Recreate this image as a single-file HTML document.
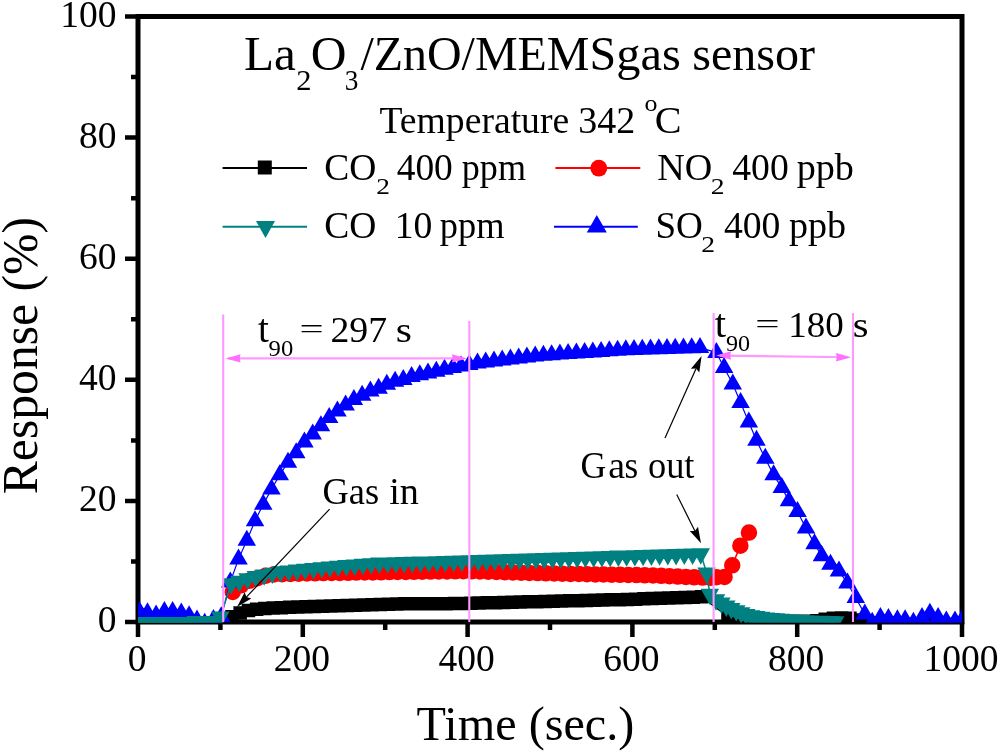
<!DOCTYPE html>
<html><head><meta charset="utf-8"><style>
html,body{margin:0;padding:0;background:#fff;}
svg{display:block;will-change:transform;}
text{font-family:"Liberation Serif",serif;fill:#000;}
</style></head><body>
<svg width="1000" height="752" viewBox="0 0 1000 752">
<defs><clipPath id="clip"><rect x="138.0" y="16.5" width="824.0" height="606.2"/></clipPath></defs>
<rect width="1000" height="752" fill="#fff"/>
<path d="M138.0,622.0v15M220.4,622.0v8M302.8,622.0v15M385.2,622.0v8M467.6,622.0v15M550.0,622.0v8M632.4,622.0v15M714.8,622.0v8M797.2,622.0v15M879.6,622.0v8M962.0,622.0v15M138.0,622.0h-13M138.0,561.5h-7M138.0,500.9h-13M138.0,440.4h-7M138.0,379.8h-13M138.0,319.2h-7M138.0,258.7h-13M138.0,198.2h-7M138.0,137.6h-13M138.0,77.1h-7M138.0,16.5h-13" stroke="#000" stroke-width="4.5" fill="none"/>
<rect x="138.0" y="16.5" width="824.0" height="605.5" fill="none" stroke="#000" stroke-width="5"/>
<g clip-path="url(#clip)">
 <polyline points="231.9,616.7 240.2,613.1 248.4,610.4 256.7,609.3 264.9,608.5 273.1,608.0 281.4,607.7 289.6,607.4 297.9,607.1 306.1,606.8 314.3,606.5 322.6,606.2 330.8,605.9 339.1,605.7 347.3,605.4 355.5,605.2 363.8,604.9 372.0,604.7 380.3,604.4 388.5,604.2 396.7,603.9 405.0,603.8 413.2,603.8 421.5,603.7 429.7,603.7 437.9,603.6 446.2,603.6 454.4,603.6 462.7,603.5 470.9,603.3 479.1,603.1 487.4,602.9 495.6,602.7 503.9,602.5 512.1,602.3 520.3,602.1 528.6,601.9 536.8,601.7 545.1,601.5 553.3,601.3 561.5,601.1 569.8,600.9 578.0,600.7 586.3,600.5 594.5,600.3 602.7,600.1 611.0,599.9 619.2,599.7 627.5,599.4 635.7,599.1 643.9,598.8 652.2,598.6 660.4,598.3 668.7,598.0 676.9,597.7 685.1,597.5 693.4,597.2 701.6,596.9 728.0,616.6 734.6,618.4 742.8,619.2 751.1,620.0 759.3,620.9 767.5,621.4 775.8,621.4 784.0,621.4 792.3,621.4 800.5,621.4 808.7,621.4 817.0,620.7 825.2,619.1 833.5,618.2 841.7,617.9 849.9,618.3 858.2,620.0 866.4,622.6 874.7,624.4 882.9,624.4 891.1,624.4 899.4,624.4 907.6,624.4 915.9,624.4 924.1,624.4 932.3,624.4 940.6,624.4 948.8,624.4 957.1,624.4" fill="none" stroke="#000" stroke-width="1.5"/>
 <path d="M225.2,609.9h13.5v13.5h-13.5ZM233.4,606.3h13.5v13.5h-13.5ZM241.7,603.7h13.5v13.5h-13.5ZM249.9,602.5h13.5v13.5h-13.5ZM258.1,601.8h13.5v13.5h-13.5ZM266.4,601.2h13.5v13.5h-13.5ZM274.6,600.9h13.5v13.5h-13.5ZM282.9,600.6h13.5v13.5h-13.5ZM291.1,600.3h13.5v13.5h-13.5ZM299.3,600.0h13.5v13.5h-13.5ZM307.6,599.7h13.5v13.5h-13.5ZM315.8,599.4h13.5v13.5h-13.5ZM324.1,599.2h13.5v13.5h-13.5ZM332.3,598.9h13.5v13.5h-13.5ZM340.5,598.7h13.5v13.5h-13.5ZM348.8,598.4h13.5v13.5h-13.5ZM357.0,598.2h13.5v13.5h-13.5ZM365.3,597.9h13.5v13.5h-13.5ZM373.5,597.7h13.5v13.5h-13.5ZM381.7,597.4h13.5v13.5h-13.5ZM390.0,597.2h13.5v13.5h-13.5ZM398.2,597.1h13.5v13.5h-13.5ZM406.5,597.0h13.5v13.5h-13.5ZM414.7,597.0h13.5v13.5h-13.5ZM422.9,596.9h13.5v13.5h-13.5ZM431.2,596.9h13.5v13.5h-13.5ZM439.4,596.9h13.5v13.5h-13.5ZM447.7,596.8h13.5v13.5h-13.5ZM455.9,596.7h13.5v13.5h-13.5ZM464.1,596.5h13.5v13.5h-13.5ZM472.4,596.3h13.5v13.5h-13.5ZM480.6,596.1h13.5v13.5h-13.5ZM488.9,595.9h13.5v13.5h-13.5ZM497.1,595.7h13.5v13.5h-13.5ZM505.3,595.5h13.5v13.5h-13.5ZM513.6,595.3h13.5v13.5h-13.5ZM521.8,595.1h13.5v13.5h-13.5ZM530.1,594.9h13.5v13.5h-13.5ZM538.3,594.7h13.5v13.5h-13.5ZM546.5,594.5h13.5v13.5h-13.5ZM554.8,594.3h13.5v13.5h-13.5ZM563.0,594.1h13.5v13.5h-13.5ZM571.3,593.9h13.5v13.5h-13.5ZM579.5,593.7h13.5v13.5h-13.5ZM587.7,593.5h13.5v13.5h-13.5ZM596.0,593.3h13.5v13.5h-13.5ZM604.2,593.1h13.5v13.5h-13.5ZM612.5,592.9h13.5v13.5h-13.5ZM620.7,592.7h13.5v13.5h-13.5ZM628.9,592.4h13.5v13.5h-13.5ZM637.2,592.1h13.5v13.5h-13.5ZM645.4,591.8h13.5v13.5h-13.5ZM653.7,591.5h13.5v13.5h-13.5ZM661.9,591.3h13.5v13.5h-13.5ZM670.1,591.0h13.5v13.5h-13.5ZM678.4,590.7h13.5v13.5h-13.5ZM686.6,590.4h13.5v13.5h-13.5ZM694.9,590.1h13.5v13.5h-13.5ZM721.2,609.8h13.5v13.5h-13.5ZM727.8,611.6h13.5v13.5h-13.5ZM736.1,612.5h13.5v13.5h-13.5ZM744.3,613.3h13.5v13.5h-13.5ZM752.5,614.1h13.5v13.5h-13.5ZM760.8,614.6h13.5v13.5h-13.5ZM769.0,614.6h13.5v13.5h-13.5ZM777.3,614.6h13.5v13.5h-13.5ZM785.5,614.6h13.5v13.5h-13.5ZM793.7,614.6h13.5v13.5h-13.5ZM802.0,614.6h13.5v13.5h-13.5ZM810.2,614.0h13.5v13.5h-13.5ZM818.5,612.4h13.5v13.5h-13.5ZM826.7,611.5h13.5v13.5h-13.5ZM834.9,611.2h13.5v13.5h-13.5ZM843.2,611.6h13.5v13.5h-13.5ZM851.4,613.3h13.5v13.5h-13.5ZM859.7,615.9h13.5v13.5h-13.5ZM867.9,617.7h13.5v13.5h-13.5ZM876.1,617.7h13.5v13.5h-13.5ZM884.4,617.7h13.5v13.5h-13.5ZM892.6,617.7h13.5v13.5h-13.5ZM900.9,617.7h13.5v13.5h-13.5ZM909.1,617.7h13.5v13.5h-13.5ZM917.3,617.7h13.5v13.5h-13.5ZM925.6,617.7h13.5v13.5h-13.5ZM933.8,617.7h13.5v13.5h-13.5ZM942.1,617.7h13.5v13.5h-13.5ZM950.3,617.7h13.5v13.5h-13.5Z" fill="#000"/>
 <polyline points="232.8,592.0 241.0,585.3 249.2,580.8 257.5,578.2 265.7,575.7 274.0,574.4 282.2,574.2 290.4,573.9 298.7,573.7 306.9,573.5 315.2,573.3 323.4,573.1 331.6,573.0 339.9,572.9 348.1,572.8 356.4,572.6 364.6,572.5 372.8,572.4 381.1,572.3 389.3,572.1 397.6,572.0 405.8,571.9 414.0,571.8 422.3,571.7 430.5,571.6 438.8,571.5 447.0,571.4 455.2,571.3 463.5,571.2 471.7,571.3 480.0,571.5 488.2,571.7 496.4,572.0 504.7,572.2 512.9,572.5 521.2,572.7 529.4,572.9 537.6,573.1 545.9,573.3 554.1,573.5 562.4,573.7 570.6,573.9 578.8,574.0 587.1,574.2 595.3,574.4 603.6,574.5 611.8,574.7 620.0,574.8 628.3,575.0 636.5,575.1 644.8,575.3 653.0,575.5 661.2,575.8 669.5,576.2 677.7,576.6 686.0,576.9 694.2,577.3 702.4,577.6 710.7,577.8 716.4,577.2 724.5,577.0 732.3,565.3 740.3,545.7 748.9,532.6" fill="none" stroke="#ff0000" stroke-width="1.5"/>
 <path d="M224.5,592.0a8.25,8.25 0 1,0 16.5,0a8.25,8.25 0 1,0 -16.5,0ZM232.8,585.3a8.25,8.25 0 1,0 16.5,0a8.25,8.25 0 1,0 -16.5,0ZM241.0,580.8a8.25,8.25 0 1,0 16.5,0a8.25,8.25 0 1,0 -16.5,0ZM249.2,578.2a8.25,8.25 0 1,0 16.5,0a8.25,8.25 0 1,0 -16.5,0ZM257.5,575.7a8.25,8.25 0 1,0 16.5,0a8.25,8.25 0 1,0 -16.5,0ZM265.7,574.4a8.25,8.25 0 1,0 16.5,0a8.25,8.25 0 1,0 -16.5,0ZM273.9,574.2a8.25,8.25 0 1,0 16.5,0a8.25,8.25 0 1,0 -16.5,0ZM282.2,573.9a8.25,8.25 0 1,0 16.5,0a8.25,8.25 0 1,0 -16.5,0ZM290.4,573.7a8.25,8.25 0 1,0 16.5,0a8.25,8.25 0 1,0 -16.5,0ZM298.7,573.5a8.25,8.25 0 1,0 16.5,0a8.25,8.25 0 1,0 -16.5,0ZM306.9,573.3a8.25,8.25 0 1,0 16.5,0a8.25,8.25 0 1,0 -16.5,0ZM315.1,573.1a8.25,8.25 0 1,0 16.5,0a8.25,8.25 0 1,0 -16.5,0ZM323.4,573.0a8.25,8.25 0 1,0 16.5,0a8.25,8.25 0 1,0 -16.5,0ZM331.6,572.9a8.25,8.25 0 1,0 16.5,0a8.25,8.25 0 1,0 -16.5,0ZM339.9,572.8a8.25,8.25 0 1,0 16.5,0a8.25,8.25 0 1,0 -16.5,0ZM348.1,572.6a8.25,8.25 0 1,0 16.5,0a8.25,8.25 0 1,0 -16.5,0ZM356.4,572.5a8.25,8.25 0 1,0 16.5,0a8.25,8.25 0 1,0 -16.5,0ZM364.6,572.4a8.25,8.25 0 1,0 16.5,0a8.25,8.25 0 1,0 -16.5,0ZM372.8,572.3a8.25,8.25 0 1,0 16.5,0a8.25,8.25 0 1,0 -16.5,0ZM381.1,572.1a8.25,8.25 0 1,0 16.5,0a8.25,8.25 0 1,0 -16.5,0ZM389.3,572.0a8.25,8.25 0 1,0 16.5,0a8.25,8.25 0 1,0 -16.5,0ZM397.6,571.9a8.25,8.25 0 1,0 16.5,0a8.25,8.25 0 1,0 -16.5,0ZM405.8,571.8a8.25,8.25 0 1,0 16.5,0a8.25,8.25 0 1,0 -16.5,0ZM414.0,571.7a8.25,8.25 0 1,0 16.5,0a8.25,8.25 0 1,0 -16.5,0ZM422.3,571.6a8.25,8.25 0 1,0 16.5,0a8.25,8.25 0 1,0 -16.5,0ZM430.5,571.5a8.25,8.25 0 1,0 16.5,0a8.25,8.25 0 1,0 -16.5,0ZM438.8,571.4a8.25,8.25 0 1,0 16.5,0a8.25,8.25 0 1,0 -16.5,0ZM447.0,571.3a8.25,8.25 0 1,0 16.5,0a8.25,8.25 0 1,0 -16.5,0ZM455.2,571.2a8.25,8.25 0 1,0 16.5,0a8.25,8.25 0 1,0 -16.5,0ZM463.5,571.3a8.25,8.25 0 1,0 16.5,0a8.25,8.25 0 1,0 -16.5,0ZM471.7,571.5a8.25,8.25 0 1,0 16.5,0a8.25,8.25 0 1,0 -16.5,0ZM479.9,571.7a8.25,8.25 0 1,0 16.5,0a8.25,8.25 0 1,0 -16.5,0ZM488.2,572.0a8.25,8.25 0 1,0 16.5,0a8.25,8.25 0 1,0 -16.5,0ZM496.4,572.2a8.25,8.25 0 1,0 16.5,0a8.25,8.25 0 1,0 -16.5,0ZM504.7,572.5a8.25,8.25 0 1,0 16.5,0a8.25,8.25 0 1,0 -16.5,0ZM512.9,572.7a8.25,8.25 0 1,0 16.5,0a8.25,8.25 0 1,0 -16.5,0ZM521.1,572.9a8.25,8.25 0 1,0 16.5,0a8.25,8.25 0 1,0 -16.5,0ZM529.4,573.1a8.25,8.25 0 1,0 16.5,0a8.25,8.25 0 1,0 -16.5,0ZM537.6,573.3a8.25,8.25 0 1,0 16.5,0a8.25,8.25 0 1,0 -16.5,0ZM545.9,573.5a8.25,8.25 0 1,0 16.5,0a8.25,8.25 0 1,0 -16.5,0ZM554.1,573.7a8.25,8.25 0 1,0 16.5,0a8.25,8.25 0 1,0 -16.5,0ZM562.3,573.9a8.25,8.25 0 1,0 16.5,0a8.25,8.25 0 1,0 -16.5,0ZM570.6,574.0a8.25,8.25 0 1,0 16.5,0a8.25,8.25 0 1,0 -16.5,0ZM578.8,574.2a8.25,8.25 0 1,0 16.5,0a8.25,8.25 0 1,0 -16.5,0ZM587.1,574.4a8.25,8.25 0 1,0 16.5,0a8.25,8.25 0 1,0 -16.5,0ZM595.3,574.5a8.25,8.25 0 1,0 16.5,0a8.25,8.25 0 1,0 -16.5,0ZM603.5,574.7a8.25,8.25 0 1,0 16.5,0a8.25,8.25 0 1,0 -16.5,0ZM611.8,574.8a8.25,8.25 0 1,0 16.5,0a8.25,8.25 0 1,0 -16.5,0ZM620.0,575.0a8.25,8.25 0 1,0 16.5,0a8.25,8.25 0 1,0 -16.5,0ZM628.3,575.1a8.25,8.25 0 1,0 16.5,0a8.25,8.25 0 1,0 -16.5,0ZM636.5,575.3a8.25,8.25 0 1,0 16.5,0a8.25,8.25 0 1,0 -16.5,0ZM644.8,575.5a8.25,8.25 0 1,0 16.5,0a8.25,8.25 0 1,0 -16.5,0ZM653.0,575.8a8.25,8.25 0 1,0 16.5,0a8.25,8.25 0 1,0 -16.5,0ZM661.2,576.2a8.25,8.25 0 1,0 16.5,0a8.25,8.25 0 1,0 -16.5,0ZM669.5,576.6a8.25,8.25 0 1,0 16.5,0a8.25,8.25 0 1,0 -16.5,0ZM677.7,576.9a8.25,8.25 0 1,0 16.5,0a8.25,8.25 0 1,0 -16.5,0ZM685.9,577.3a8.25,8.25 0 1,0 16.5,0a8.25,8.25 0 1,0 -16.5,0ZM694.2,577.6a8.25,8.25 0 1,0 16.5,0a8.25,8.25 0 1,0 -16.5,0ZM702.4,577.8a8.25,8.25 0 1,0 16.5,0a8.25,8.25 0 1,0 -16.5,0ZM708.2,577.2a8.25,8.25 0 1,0 16.5,0a8.25,8.25 0 1,0 -16.5,0ZM716.3,577.0a8.25,8.25 0 1,0 16.5,0a8.25,8.25 0 1,0 -16.5,0ZM724.0,565.3a8.25,8.25 0 1,0 16.5,0a8.25,8.25 0 1,0 -16.5,0ZM732.1,545.7a8.25,8.25 0 1,0 16.5,0a8.25,8.25 0 1,0 -16.5,0ZM740.7,532.6a8.25,8.25 0 1,0 16.5,0a8.25,8.25 0 1,0 -16.5,0Z" fill="#ff0000"/>
 <polyline points="139.6,611.8 147.5,613.0 156.1,615.2 164.4,611.7 172.6,611.7 181.3,613.2 189.1,615.9 197.0,620.2 204.7,623.5 213.5,619.7 221.2,616.9 230.3,582.0 238.5,559.1 246.8,540.5 255.0,520.9 263.2,504.4 271.5,489.2 279.7,474.9 288.0,462.5 296.2,452.9 304.4,442.3 312.7,434.2 320.9,425.9 329.2,417.7 337.4,411.2 345.6,405.3 353.9,399.7 362.1,395.5 370.4,391.0 378.6,388.5 386.8,384.4 395.1,381.4 403.3,379.7 411.6,376.8 419.8,375.0 428.0,373.1 436.3,371.3 444.5,369.5 452.8,367.7 461.0,366.0 469.2,364.6 477.5,363.3 485.7,362.3 494.0,361.3 502.2,360.3 510.4,359.3 518.7,358.3 526.9,357.3 535.2,356.3 543.4,355.4 551.6,354.9 559.9,354.3 568.1,353.8 576.4,353.2 584.6,352.6 592.8,352.1 601.1,351.5 609.3,351.0 617.6,350.4 625.8,350.0 634.0,349.7 642.3,349.5 650.5,349.2 658.8,349.0 667.0,348.7 675.2,348.4 683.5,348.2 691.7,347.9 700.0,347.6 716.4,352.6 724.1,367.7 732.8,384.0 740.6,402.8 748.8,422.2 756.5,440.4 765.3,458.5 773.6,474.9 781.8,487.6 789.0,500.9 797.5,511.8 806.0,528.1 814.5,543.9 821.9,556.0 830.5,564.5 839.0,571.1 847.5,583.2 855.7,597.8 864.8,614.1 872.2,622.4 880.4,617.6 888.4,618.8 897.4,620.0 905.1,620.0 913.4,622.4 922.0,617.6 929.9,613.4 938.1,617.6 946.3,621.2 955.0,621.2 962.0,620.2" fill="none" stroke="#0000ff" stroke-width="1.2"/>
 <path d="M130.4,617.2L148.9,617.2L139.6,601.2ZM138.2,618.3L156.7,618.3L147.5,602.3ZM146.9,620.6L165.4,620.6L156.1,604.6ZM155.1,617.0L173.6,617.0L164.4,601.0ZM163.4,617.0L181.9,617.0L172.6,601.0ZM172.0,618.6L190.5,618.6L181.3,602.6ZM179.8,621.3L198.3,621.3L189.1,605.3ZM187.7,625.5L206.2,625.5L197.0,609.5ZM195.5,628.8L214.0,628.8L204.7,612.8ZM204.2,625.0L222.7,625.0L213.5,609.0ZM212.0,622.2L230.5,622.2L221.2,606.2ZM221.0,587.4L239.5,587.4L230.3,571.4ZM229.3,564.5L247.8,564.5L238.5,548.5ZM237.5,545.8L256.0,545.8L246.8,529.8ZM245.8,526.3L264.3,526.3L255.0,510.3ZM254.0,509.7L272.5,509.7L263.2,493.7ZM262.2,494.6L280.7,494.6L271.5,478.6ZM270.5,480.2L289.0,480.2L279.7,464.2ZM278.7,467.8L297.2,467.8L288.0,451.8ZM287.0,458.3L305.5,458.3L296.2,442.3ZM295.2,447.6L313.7,447.6L304.4,431.6ZM303.4,439.5L321.9,439.5L312.7,423.5ZM311.7,431.3L330.2,431.3L320.9,415.3ZM319.9,423.1L338.4,423.1L329.2,407.1ZM328.2,416.5L346.7,416.5L337.4,400.5ZM336.4,410.6L354.9,410.6L345.6,394.6ZM344.6,405.0L363.1,405.0L353.9,389.0ZM352.9,400.8L371.4,400.8L362.1,384.8ZM361.1,396.4L379.6,396.4L370.4,380.4ZM369.4,393.8L387.9,393.8L378.6,377.8ZM377.6,389.7L396.1,389.7L386.8,373.7ZM385.8,386.8L404.3,386.8L395.1,370.8ZM394.1,385.1L412.6,385.1L403.3,369.1ZM402.3,382.1L420.8,382.1L411.6,366.1ZM410.6,380.3L429.1,380.3L419.8,364.3ZM418.8,378.5L437.3,378.5L428.0,362.5ZM427.0,376.7L445.5,376.7L436.3,360.7ZM435.3,374.8L453.8,374.8L444.5,358.8ZM443.5,373.0L462.0,373.0L452.8,357.0ZM451.8,371.4L470.3,371.4L461.0,355.4ZM460.0,370.0L478.5,370.0L469.2,354.0ZM468.2,368.6L486.7,368.6L477.5,352.6ZM476.5,367.6L495.0,367.6L485.7,351.6ZM484.7,366.6L503.2,366.6L494.0,350.6ZM493.0,365.6L511.5,365.6L502.2,349.6ZM501.2,364.6L519.7,364.6L510.4,348.6ZM509.4,363.6L527.9,363.6L518.7,347.6ZM517.7,362.6L536.2,362.6L526.9,346.6ZM525.9,361.6L544.4,361.6L535.2,345.6ZM534.2,360.7L552.7,360.7L543.4,344.7ZM542.4,360.2L560.9,360.2L551.6,344.2ZM550.6,359.6L569.1,359.6L559.9,343.6ZM558.9,359.1L577.4,359.1L568.1,343.1ZM567.1,358.5L585.6,358.5L576.4,342.5ZM575.4,358.0L593.9,358.0L584.6,342.0ZM583.6,357.4L602.1,357.4L592.8,341.4ZM591.8,356.9L610.3,356.9L601.1,340.9ZM600.1,356.3L618.6,356.3L609.3,340.3ZM608.3,355.8L626.8,355.8L617.6,339.8ZM616.6,355.3L635.1,355.3L625.8,339.3ZM624.8,355.1L643.3,355.1L634.0,339.1ZM633.0,354.8L651.5,354.8L642.3,338.8ZM641.3,354.6L659.8,354.6L650.5,338.6ZM649.5,354.3L668.0,354.3L658.8,338.3ZM657.8,354.0L676.3,354.0L667.0,338.0ZM666.0,353.8L684.5,353.8L675.2,337.8ZM674.2,353.5L692.7,353.5L683.5,337.5ZM682.5,353.2L701.0,353.2L691.7,337.2ZM690.7,353.0L709.2,353.0L700.0,337.0ZM707.2,357.9L725.7,357.9L716.4,341.9ZM714.9,373.0L733.4,373.0L724.1,357.0ZM723.5,389.4L742.0,389.4L732.8,373.4ZM731.3,408.1L749.8,408.1L740.6,392.1ZM739.6,427.5L758.1,427.5L748.8,411.5ZM747.2,445.7L765.7,445.7L756.5,429.7ZM756.1,463.8L774.6,463.8L765.3,447.8ZM764.3,480.2L782.8,480.2L773.6,464.2ZM772.5,492.9L791.0,492.9L781.8,476.9ZM779.7,506.2L798.2,506.2L789.0,490.2ZM788.3,517.1L806.8,517.1L797.5,501.1ZM796.8,533.5L815.3,533.5L806.0,517.5ZM805.3,549.2L823.8,549.2L814.5,533.2ZM812.7,561.3L831.2,561.3L821.9,545.3ZM821.2,569.8L839.7,569.8L830.5,553.8ZM829.7,576.5L848.2,576.5L839.0,560.5ZM838.2,588.6L856.7,588.6L847.5,572.6ZM846.5,603.1L865.0,603.1L855.7,587.1ZM855.5,619.5L874.0,619.5L864.8,603.5ZM862.9,627.8L881.4,627.8L872.2,611.8ZM871.2,622.9L889.7,622.9L880.4,606.9ZM879.2,624.1L897.7,624.1L888.4,608.1ZM888.1,625.3L906.6,625.3L897.4,609.3ZM895.9,625.3L914.4,625.3L905.1,609.3ZM904.1,627.8L922.6,627.8L913.4,611.8ZM912.8,622.9L931.3,622.9L922.0,606.9ZM920.6,618.7L939.1,618.7L929.9,602.7ZM928.9,622.9L947.4,622.9L938.1,606.9ZM937.1,626.5L955.6,626.5L946.3,610.5ZM945.7,626.5L964.2,626.5L955.0,610.5ZM952.8,625.5L971.2,625.5L962.0,609.5Z" fill="#0000ff"/>
 <polyline points="138.0,622.6 146.2,622.6 154.5,622.6 162.7,622.6 171.0,622.6 179.2,622.6 187.4,622.6 195.7,621.4 203.9,621.4 212.2,621.4 220.4,616.9 231.1,583.7 239.4,581.3 247.6,578.8 255.8,576.5 264.1,574.8 272.3,573.2 280.6,571.7 288.8,570.9 297.0,570.1 305.3,569.3 313.5,568.4 321.8,567.6 330.0,566.8 338.2,566.2 346.5,565.6 354.7,564.9 363.0,564.3 371.2,563.7 379.4,563.1 387.7,562.9 395.9,562.7 404.2,562.5 412.4,562.3 420.6,562.1 428.9,561.9 437.1,561.7 445.4,561.4 453.6,561.2 461.8,561.0 470.1,560.8 478.3,560.5 486.6,560.3 494.8,560.0 503.0,559.8 511.3,559.5 519.5,559.3 527.8,559.0 536.0,558.8 544.2,558.5 552.5,558.2 560.7,558.0 569.0,557.7 577.2,557.4 585.4,557.2 593.7,556.9 601.9,556.6 610.2,556.4 618.4,556.1 626.6,555.9 634.9,555.6 643.1,555.4 651.4,555.1 659.6,554.9 667.8,554.7 676.1,554.4 684.3,554.2 692.6,554.0 700.8,553.7 706.6,573.0 709.9,594.1 716.0,599.8 721.4,603.1 726.3,606.1 731.3,608.5 736.2,610.7 741.2,612.6 746.1,614.3 751.1,615.8 756.0,616.5 760.9,617.3 765.9,617.9 770.8,618.3 775.8,618.8 780.7,619.2 785.7,619.6 790.6,620.0 795.6,620.2 800.5,620.5 805.4,620.7 810.4,620.9 815.3,621.1 820.3,621.3 825.2,621.4 830.2,621.5 835.1,621.6" fill="none" stroke="#008080" stroke-width="1.5"/>
 <path d="M128.8,617.1L147.2,617.1L138.0,633.5ZM137.0,617.1L155.5,617.1L146.2,633.5ZM145.2,617.1L163.7,617.1L154.5,633.5ZM153.5,617.1L172.0,617.1L162.7,633.5ZM161.7,617.1L180.2,617.1L171.0,633.5ZM169.9,617.1L188.4,617.1L179.2,633.5ZM178.2,617.1L196.7,617.1L187.4,633.5ZM186.4,615.9L204.9,615.9L195.7,632.3ZM194.7,615.9L213.2,615.9L203.9,632.3ZM202.9,615.9L221.4,615.9L212.2,632.3ZM211.1,611.4L229.6,611.4L220.4,627.8ZM221.9,578.2L240.4,578.2L231.1,594.6ZM230.1,575.8L248.6,575.8L239.4,592.2ZM238.3,573.3L256.8,573.3L247.6,589.7ZM246.6,571.0L265.1,571.0L255.8,587.4ZM254.8,569.4L273.3,569.4L264.1,585.8ZM263.1,567.7L281.6,567.7L272.3,584.1ZM271.3,566.2L289.8,566.2L280.6,582.6ZM279.5,565.4L298.0,565.4L288.8,581.8ZM287.8,564.6L306.3,564.6L297.0,581.0ZM296.0,563.8L314.5,563.8L305.3,580.2ZM304.3,563.0L322.8,563.0L313.5,579.4ZM312.5,562.2L331.0,562.2L321.8,578.6ZM320.7,561.4L339.2,561.4L330.0,577.8ZM329.0,560.7L347.5,560.7L338.2,577.1ZM337.2,560.1L355.7,560.1L346.5,576.5ZM345.5,559.5L364.0,559.5L354.7,575.9ZM353.7,558.8L372.2,558.8L363.0,575.2ZM361.9,558.2L380.4,558.2L371.2,574.6ZM370.2,557.6L388.7,557.6L379.4,574.0ZM378.4,557.4L396.9,557.4L387.7,573.8ZM386.7,557.2L405.2,557.2L395.9,573.6ZM394.9,557.0L413.4,557.0L404.2,573.4ZM403.1,556.8L421.6,556.8L412.4,573.2ZM411.4,556.6L429.9,556.6L420.6,573.0ZM419.6,556.4L438.1,556.4L428.9,572.8ZM427.9,556.2L446.4,556.2L437.1,572.6ZM436.1,556.0L454.6,556.0L445.4,572.4ZM444.3,555.8L462.8,555.8L453.6,572.2ZM452.6,555.5L471.1,555.5L461.8,571.9ZM460.8,555.3L479.3,555.3L470.1,571.7ZM469.1,555.1L487.6,555.1L478.3,571.5ZM477.3,554.8L495.8,554.8L486.6,571.2ZM485.5,554.5L504.0,554.5L494.8,570.9ZM493.8,554.3L512.3,554.3L503.0,570.7ZM502.0,554.0L520.5,554.0L511.3,570.4ZM510.3,553.8L528.8,553.8L519.5,570.2ZM518.5,553.5L537.0,553.5L527.8,569.9ZM526.7,553.3L545.2,553.3L536.0,569.7ZM535.0,553.0L553.5,553.0L544.2,569.4ZM543.2,552.8L561.7,552.8L552.5,569.2ZM551.5,552.5L570.0,552.5L560.7,568.9ZM559.7,552.2L578.2,552.2L569.0,568.6ZM567.9,552.0L586.4,552.0L577.2,568.4ZM576.2,551.7L594.7,551.7L585.4,568.1ZM584.4,551.4L602.9,551.4L593.7,567.8ZM592.7,551.2L611.2,551.2L601.9,567.6ZM600.9,550.9L619.4,550.9L610.2,567.3ZM609.1,550.6L627.6,550.6L618.4,567.0ZM617.4,550.4L635.9,550.4L626.6,566.8ZM625.6,550.2L644.1,550.2L634.9,566.6ZM633.9,549.9L652.4,549.9L643.1,566.3ZM642.1,549.7L660.6,549.7L651.4,566.1ZM650.3,549.4L668.8,549.4L659.6,565.8ZM658.6,549.2L677.1,549.2L667.8,565.6ZM666.8,549.0L685.3,549.0L676.1,565.4ZM675.1,548.7L693.6,548.7L684.3,565.1ZM683.3,548.5L701.8,548.5L692.6,564.9ZM691.5,548.3L710.0,548.3L700.8,564.7ZM697.3,567.5L715.8,567.5L706.6,583.9ZM700.6,588.7L719.1,588.7L709.9,605.1ZM706.8,594.3L725.3,594.3L716.0,610.7ZM712.1,597.6L730.6,597.6L721.4,614.0ZM717.1,600.6L735.6,600.6L726.3,617.0ZM722.0,603.0L740.5,603.0L731.3,619.4ZM727.0,605.2L745.5,605.2L736.2,621.6ZM731.9,607.2L750.4,607.2L741.2,623.6ZM736.9,608.9L755.4,608.9L746.1,625.3ZM741.8,610.3L760.3,610.3L751.1,626.7ZM746.8,611.1L765.2,611.1L756.0,627.5ZM751.7,611.8L770.2,611.8L760.9,628.2ZM756.6,612.4L775.1,612.4L765.9,628.8ZM761.6,612.9L780.1,612.9L770.8,629.3ZM766.5,613.3L785.0,613.3L775.8,629.7ZM771.5,613.7L790.0,613.7L780.7,630.1ZM776.4,614.2L794.9,614.2L785.7,630.6ZM781.4,614.5L799.9,614.5L790.6,630.9ZM786.3,614.7L804.8,614.7L795.6,631.1ZM791.2,615.0L809.7,615.0L800.5,631.4ZM796.2,615.2L814.7,615.2L805.4,631.6ZM801.1,615.5L819.6,615.5L810.4,631.9ZM806.1,615.7L824.6,615.7L815.3,632.1ZM811.0,615.8L829.5,615.8L820.3,632.2ZM816.0,615.9L834.5,615.9L825.2,632.3ZM820.9,616.0L839.4,616.0L830.2,632.4ZM825.9,616.2L844.4,616.2L835.1,632.6Z" fill="#008080"/>
</g>
<g stroke="#ff99ff" stroke-width="2.1" fill="none">
 <line x1="223.2" y1="314.5" x2="223.2" y2="622"/>
 <line x1="469.3" y1="321" x2="469.3" y2="622"/>
 <line x1="713.6" y1="313" x2="713.6" y2="622"/>
 <line x1="853" y1="313" x2="853" y2="622"/>
 <line x1="228" y1="358.4" x2="464" y2="358.4"/>
 <line x1="720" y1="355.6" x2="848" y2="357.2"/>
</g>
<g fill="#ff70ff">
 <path d="M225.5,358.4L240.5,354.2L239.8,358.4L240.5,362.6Z"/>
 <path d="M467.0,358.4L452.0,354.2L452.8,358.4L452.0,362.6Z"/>
 <path d="M716.0,355.5L731.0,351.3L730.2,355.5L731.0,359.7Z"/>
 <path d="M851.0,357.3L836.0,353.1L836.8,357.3L836.0,361.5Z"/>
</g>
<line x1="329.6" y1="509.2" x2="246.4" y2="597.1" stroke="#000" stroke-width="1.2"/><path d="M237.0,607.0L244.7,592.2L246.4,597.1L251.3,598.5Z" fill="#000"/>
<line x1="665.0" y1="438.0" x2="696.1" y2="368.4" stroke="#000" stroke-width="1.2"/><path d="M701.6,356.0L699.3,372.5L696.1,368.4L690.9,368.7Z" fill="#000"/>
<line x1="676.7" y1="494.4" x2="694.9" y2="531.0" stroke="#000" stroke-width="1.2"/><path d="M701.0,543.2L689.8,530.9L694.9,531.0L698.0,526.8Z" fill="#000"/>
<g font-size="37.5"><text x="137.0" y="671" text-anchor="middle">0</text><text x="301.8" y="671" text-anchor="middle">200</text><text x="466.6" y="671" text-anchor="middle">400</text><text x="631.4" y="671" text-anchor="middle">600</text><text x="796.2" y="671" text-anchor="middle">800</text><text x="961.0" y="671" text-anchor="middle">1000</text><text x="116.5" y="632.2" text-anchor="end">0</text><text x="116.5" y="511.1" text-anchor="end">20</text><text x="116.5" y="390.0" text-anchor="end">40</text><text x="116.5" y="268.9" text-anchor="end">60</text><text x="116.5" y="147.8" text-anchor="end">80</text><text x="116.5" y="26.7" text-anchor="end">100</text></g>
<text transform="translate(36.6,494.3) rotate(-90)" font-size="49.7">Response (%)</text>
<text transform="translate(243.98,69.70) scale(1.0245,1.0000)" font-size="48">La</text>
<text transform="translate(296.25,89.60) scale(1.0500,1.0000)" font-size="29">2</text>
<text transform="translate(310.84,69.70) scale(1.0323,1.0000)" font-size="48">O</text>
<text transform="translate(344.76,89.60) scale(0.9417,1.0000)" font-size="29">3</text>
<text transform="translate(360.40,69.70) scale(0.9992,1.0000)" font-size="48">/ZnO/MEMS</text>
<text transform="translate(616.28,69.70) scale(1.0083,1.0000)" font-size="48">gas</text>
<text transform="translate(692.20,69.70) scale(1.0017,1.0000)" font-size="48">sensor</text>
<text transform="translate(379.48,132.60) scale(1.0179,1.0000)" font-size="37">Temperature</text>
<text transform="translate(578.15,132.60) scale(1.0269,1.0000)" font-size="37">342</text>
<text transform="translate(644.52,110.60) scale(1.0800,1.0000)" font-size="24">o</text>
<text transform="translate(654.83,132.60) scale(1.0857,1.0000)" font-size="37">C</text>
<text transform="translate(324.27,179.70) scale(1.0146,1.0000)" font-size="37">CO</text>
<text transform="translate(376.16,194.00) scale(1.1400,1.0000)" font-size="24">2</text>
<text transform="translate(396.69,179.70) scale(1.0113,1.0000)" font-size="37">400</text>
<text transform="translate(461.82,179.70) scale(0.9750,1.0000)" font-size="37">ppm</text>
<text transform="translate(324.27,238.40) scale(1.0146,1.0000)" font-size="37">CO</text>
<text transform="translate(394.65,238.40) scale(1.0182,1.0000)" font-size="37">10</text>
<text transform="translate(439.82,238.40) scale(0.9844,1.0000)" font-size="37">ppm</text>
<text transform="translate(657.37,179.70) scale(1.0294,1.0000)" font-size="37">NO</text>
<text transform="translate(710.85,193.50) scale(1.1500,1.0000)" font-size="24">2</text>
<text transform="translate(732.28,179.70) scale(1.0170,1.0000)" font-size="37">400</text>
<text transform="translate(796.67,179.70) scale(1.0321,1.0000)" font-size="37">ppb</text>
<text transform="translate(655.39,238.40) scale(1.0023,1.0000)" font-size="37">SO</text>
<text transform="translate(701.35,252.20) scale(1.1500,1.0000)" font-size="24">2</text>
<text transform="translate(723.88,238.40) scale(1.0170,1.0000)" font-size="37">400</text>
<text transform="translate(788.97,238.40) scale(1.0302,1.0000)" font-size="37">ppb</text>
<text transform="translate(258.11,342.30) scale(1.0889,1.1350)" font-size="36">t</text>
<text transform="translate(268.57,355.90) scale(1.0273,1.0000)" font-size="24">90</text>
<text transform="translate(299.62,338.02) scale(1.1882,0.7778)" font-size="36">=</text>
<text transform="translate(330.40,342.30) scale(1.0490,1.0000)" font-size="36">297</text>
<text transform="translate(395.69,342.30) scale(1.1545,1.0000)" font-size="36">s</text>
<text transform="translate(714.87,336.80) scale(1.1333,1.1200)" font-size="36">t</text>
<text transform="translate(726.00,350.60) scale(1.0045,1.0000)" font-size="24">90</text>
<text transform="translate(755.20,332.52) scale(1.2000,0.7778)" font-size="36">=</text>
<text transform="translate(788.22,336.80) scale(1.0280,1.0000)" font-size="36">180</text>
<text transform="translate(852.65,336.80) scale(1.1273,1.0000)" font-size="36">s</text>
<text transform="translate(580.45,478.30) scale(1.0500,1.1200)" font-size="34">G</text>
<text transform="translate(608.29,478.30) scale(1.1143,1.1200)" font-size="34">a</text>
<text transform="translate(624.56,478.30) scale(1.0364,1.1200)" font-size="34">s</text>
<text transform="translate(647.93,478.30) scale(1.0714,1.1200)" font-size="34">out</text>
<text transform="translate(322.53,503.50) scale(1.0706,1.1000)" font-size="34">Gas</text>
<text transform="translate(389.18,503.50) scale(1.1240,1.1000)" font-size="34">in</text>
<text transform="translate(416.50,740.00) scale(1.0047,1.0000)" font-size="48">Time (sec.)</text>
<g stroke-width="2">
 <line x1="222.6" y1="168" x2="307" y2="168" stroke="#000"/>
 <line x1="222.6" y1="226.7" x2="307" y2="226.7" stroke="#008080"/>
 <line x1="555.4" y1="168" x2="640.3" y2="168" stroke="#ff0000"/>
 <line x1="554" y1="226.7" x2="637.8" y2="226.7" stroke="#0000ff"/>
</g>
<path d="M257.8,160.5h14v14h-14Z" fill="#000"/>
<path d="M256.0,221.1L275.0,221.1L265.5,237.9Z" fill="#008080"/>
<path d="M590.4,168.2a8.4,8.4 0 1,0 16.8,0a8.4,8.4 0 1,0 -16.8,0Z" fill="#ff0000"/>
<path d="M586.8,232.5L606.8,232.5L596.8,215.0Z" fill="#0000ff"/>
</svg>
</body></html>
